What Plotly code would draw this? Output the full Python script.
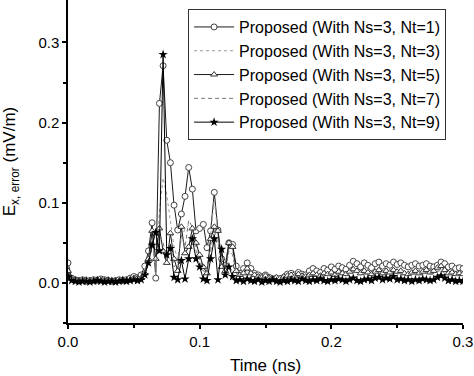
import numpy as np
import plotly.graph_objects as go

# time grid (ns)
n_points = 109
time_ns = np.linspace(0.0, 0.3, n_points)

labels = [
    "Proposed (With Ns=3, Nt=1)",
    "Proposed (With Ns=3, Nt=3)",
    "Proposed (With Ns=3, Nt=5)",
    "Proposed (With Ns=3, Nt=7)",
    "Proposed (With Ns=3, Nt=9)",
]

nt1 = [0.025, 0.006, 0.004, 0.003, 0.004, 0.002, 0.003, 0.004, 0.003, 0.005,
       0.004, 0.003, 0.002, 0.003, 0.004, 0.003, 0.004, 0.006, 0.008, 0.007,
       0.010, 0.021, 0.040, 0.075, 0.006, 0.224, 0.271, 0.178, 0.150, 0.097,
       0.066, 0.086, 0.108, 0.144, 0.117, 0.065, 0.068, 0.073, 0.044, 0.065,
       0.113, 0.066, 0.030, 0.022, 0.050, 0.048, 0.021, 0.012, 0.018, 0.025,
       0.018, 0.012, 0.010, 0.008, 0.010, 0.007, 0.005, 0.006, 0.004, 0.007,
       0.011, 0.012, 0.010, 0.013, 0.011, 0.010, 0.015, 0.018, 0.015, 0.013,
       0.018, 0.016, 0.020, 0.017, 0.021, 0.019, 0.017, 0.022, 0.027, 0.024,
       0.020, 0.025, 0.022, 0.019, 0.024, 0.026, 0.021, 0.024, 0.022, 0.026,
       0.023, 0.025, 0.022, 0.020, 0.022, 0.024, 0.021, 0.022, 0.024, 0.021,
       0.020, 0.022, 0.026, 0.024, 0.020, 0.021, 0.018, 0.019, 0.018]

nt3 = [0.015, 0.005, 0.003, 0.004, 0.002, 0.003, 0.004, 0.003, 0.002, 0.004,
       0.003, 0.004, 0.003, 0.002, 0.003, 0.004, 0.003, 0.005, 0.006, 0.006,
       0.008, 0.015, 0.035, 0.060, 0.010, 0.090, 0.131, 0.110, 0.075, 0.045,
       0.030, 0.055, 0.068, 0.072, 0.066, 0.050, 0.030, 0.020, 0.015, 0.060,
       0.105, 0.060, 0.025, 0.020, 0.045, 0.040, 0.018, 0.010, 0.012, 0.016,
       0.012, 0.009, 0.008, 0.007, 0.008, 0.006, 0.005, 0.006, 0.005, 0.006,
       0.008, 0.009, 0.008, 0.010, 0.009, 0.008, 0.011, 0.013, 0.011, 0.010,
       0.013, 0.012, 0.014, 0.012, 0.015, 0.013, 0.012, 0.015, 0.018, 0.016,
       0.014, 0.017, 0.015, 0.013, 0.016, 0.018, 0.015, 0.016, 0.014, 0.017,
       0.015, 0.016, 0.014, 0.013, 0.014, 0.016, 0.014, 0.015, 0.016, 0.014,
       0.013, 0.015, 0.018, 0.016, 0.013, 0.014, 0.012, 0.013, 0.012]

nt5 = [0.015, 0.005, 0.004, 0.003, 0.003, 0.004, 0.002, 0.003, 0.004, 0.003,
       0.003, 0.004, 0.003, 0.003, 0.002, 0.004, 0.003, 0.004, 0.006, 0.006,
       0.006, 0.012, 0.030, 0.065, 0.030, 0.068, 0.040, 0.025, 0.062, 0.030,
       0.015, 0.070, 0.037, 0.045, 0.068, 0.050, 0.035, 0.020, 0.012, 0.055,
       0.070, 0.065, 0.020, 0.015, 0.050, 0.045, 0.015, 0.010, 0.012, 0.018,
       0.012, 0.010, 0.008, 0.007, 0.009, 0.006, 0.005, 0.007, 0.006, 0.008,
       0.009, 0.010, 0.008, 0.011, 0.009, 0.008, 0.010, 0.012, 0.010, 0.009,
       0.012, 0.011, 0.013, 0.010, 0.014, 0.012, 0.011, 0.014, 0.017, 0.015,
       0.012, 0.015, 0.013, 0.011, 0.014, 0.016, 0.012, 0.015, 0.013, 0.016,
       0.014, 0.015, 0.012, 0.011, 0.013, 0.015, 0.012, 0.014, 0.016, 0.013,
       0.015, 0.019, 0.021, 0.016, 0.012, 0.013, 0.011, 0.012, 0.011]

nt7 = [0.012, 0.004, 0.003, 0.003, 0.002, 0.003, 0.003, 0.004, 0.003, 0.003,
       0.002, 0.003, 0.004, 0.003, 0.003, 0.002, 0.003, 0.004, 0.005, 0.005,
       0.006, 0.010, 0.025, 0.055, 0.020, 0.060, 0.050, 0.030, 0.050, 0.020,
       0.025, 0.060, 0.045, 0.078, 0.070, 0.040, 0.030, 0.015, 0.012, 0.040,
       0.065, 0.050, 0.025, 0.012, 0.040, 0.035, 0.012, 0.008, 0.010, 0.014,
       0.010, 0.008, 0.006, 0.006, 0.007, 0.005, 0.004, 0.005, 0.004, 0.006,
       0.007, 0.008, 0.007, 0.009, 0.008, 0.007, 0.009, 0.010, 0.009, 0.008,
       0.010, 0.009, 0.011, 0.009, 0.012, 0.010, 0.009, 0.012, 0.014, 0.012,
       0.010, 0.012, 0.011, 0.009, 0.011, 0.013, 0.010, 0.012, 0.010, 0.013,
       0.011, 0.012, 0.010, 0.009, 0.010, 0.012, 0.010, 0.011, 0.013, 0.011,
       0.012, 0.014, 0.016, 0.012, 0.010, 0.011, 0.009, 0.010, 0.009]

nt9 = [0.008, 0.003, 0.002, 0.001, 0.002, 0.002, 0.001, 0.002, 0.003, 0.002,
       0.001, 0.002, 0.002, 0.001, 0.002, 0.003, 0.002, 0.003, 0.004, 0.003,
       0.004, 0.010, 0.025, 0.047, 0.063, 0.040, 0.285, 0.035, 0.043, 0.007,
       0.004, 0.028, 0.005, 0.030, 0.055, 0.030, 0.020, 0.005, 0.003, 0.030,
       0.055, 0.004, 0.042, 0.010, 0.020, 0.008, 0.003, 0.004, 0.002, 0.005,
       0.003, 0.002, 0.004, 0.001, 0.003, 0.002, 0.004, 0.002, 0.001, 0.003,
       0.002, 0.004, 0.003, 0.002, 0.005, 0.003, 0.002, 0.004, 0.003, 0.005,
       0.003, 0.002, 0.004, 0.003, 0.005, 0.004, 0.002, 0.004, 0.006, 0.003,
       0.002, 0.004, 0.005, 0.003, 0.006, 0.007, 0.004, 0.006, 0.005, 0.008,
       0.004, 0.005, 0.003, 0.004, 0.002, 0.004, 0.003, 0.005, 0.004, 0.003,
       0.004, 0.007, 0.009, 0.006, 0.003, 0.004, 0.002, 0.003, 0.002]

series = [nt1, nt3, nt5, nt7, nt9]

styles = [
    dict(line=dict(color="#1a1a1a", width=1),
         marker=dict(symbol="circle", size=6, color="white",
                     line=dict(color="#444", width=1)), mode="lines+markers"),
    dict(line=dict(color="#9a9a9a", width=1, dash="dot"), mode="lines"),
    dict(line=dict(color="#1a1a1a", width=1),
         marker=dict(symbol="triangle-up", size=6, color="white",
                     line=dict(color="#333", width=1)), mode="lines+markers"),
    dict(line=dict(color="#777777", width=1, dash="4px,3px"), mode="lines"),
    dict(line=dict(color="#000000", width=1),
         marker=dict(symbol="star", size=7, color="#000000",
                     line=dict(color="#000", width=0)), mode="lines+markers"),
]

fig = go.Figure()
for name, vals, st in zip(labels, series, styles):
    fig.add_trace(go.Scatter(x=time_ns, y=vals, name=name, **st))

font_family = "Liberation Sans, Arial, sans-serif"

fig.update_layout(
    width=474, height=376,
    margin=dict(l=68, r=11, t=0, b=53, autoexpand=False),
    paper_bgcolor="white", plot_bgcolor="white",
    font=dict(family=font_family, size=15, color="black"),
    showlegend=True,
    legend=dict(
        x=0.304, y=0.972, xanchor="left", yanchor="top",
        bgcolor="white", bordercolor="#333", borderwidth=1,
        font=dict(size=16, color="black"),
        itemwidth=40, tracegroupgap=0,
    ),
    xaxis=dict(
        range=[0, 0.3], tickvals=[0, 0.1, 0.2, 0.3], ticktext=["0.0", "0.1", "0.2", "0.3"],
        ticks="outside", ticklen=4, tickwidth=1.5, tickcolor="black",
        minor=dict(tickvals=[0.05, 0.15, 0.25], ticks="outside", ticklen=3, tickcolor="black", tickwidth=1.5),
        showline=True, linecolor="black", linewidth=1.5, mirror=False,
        showgrid=False, zeroline=False,
        tickfont=dict(size=15),
        title=dict(text="Time (ns)", font=dict(size=17), standoff=10),
    ),
    yaxis=dict(
        range=[-0.05, 0.353], tickvals=[0.0, 0.1, 0.2, 0.3], ticktext=["0.0", "0.1", "0.2", "0.3"],
        ticks="outside", ticklen=4, tickwidth=1.5, tickcolor="black",
        minor=dict(tickvals=[-0.05, 0.05, 0.15, 0.25], ticks="outside", ticklen=3, tickcolor="black", tickwidth=1.5),
        showline=True, linecolor="black", linewidth=1.5, mirror=False,
        showgrid=False, zeroline=False,
        tickfont=dict(size=15),
        title=dict(text="E<sub>x, error</sub> (mV/m)", font=dict(size=17), standoff=18),
    ),
)

fig.write_html("out.html", config={"displayModeBar": False},
               post_script="document.body.style.margin='0';document.body.style.overflow='hidden';")
